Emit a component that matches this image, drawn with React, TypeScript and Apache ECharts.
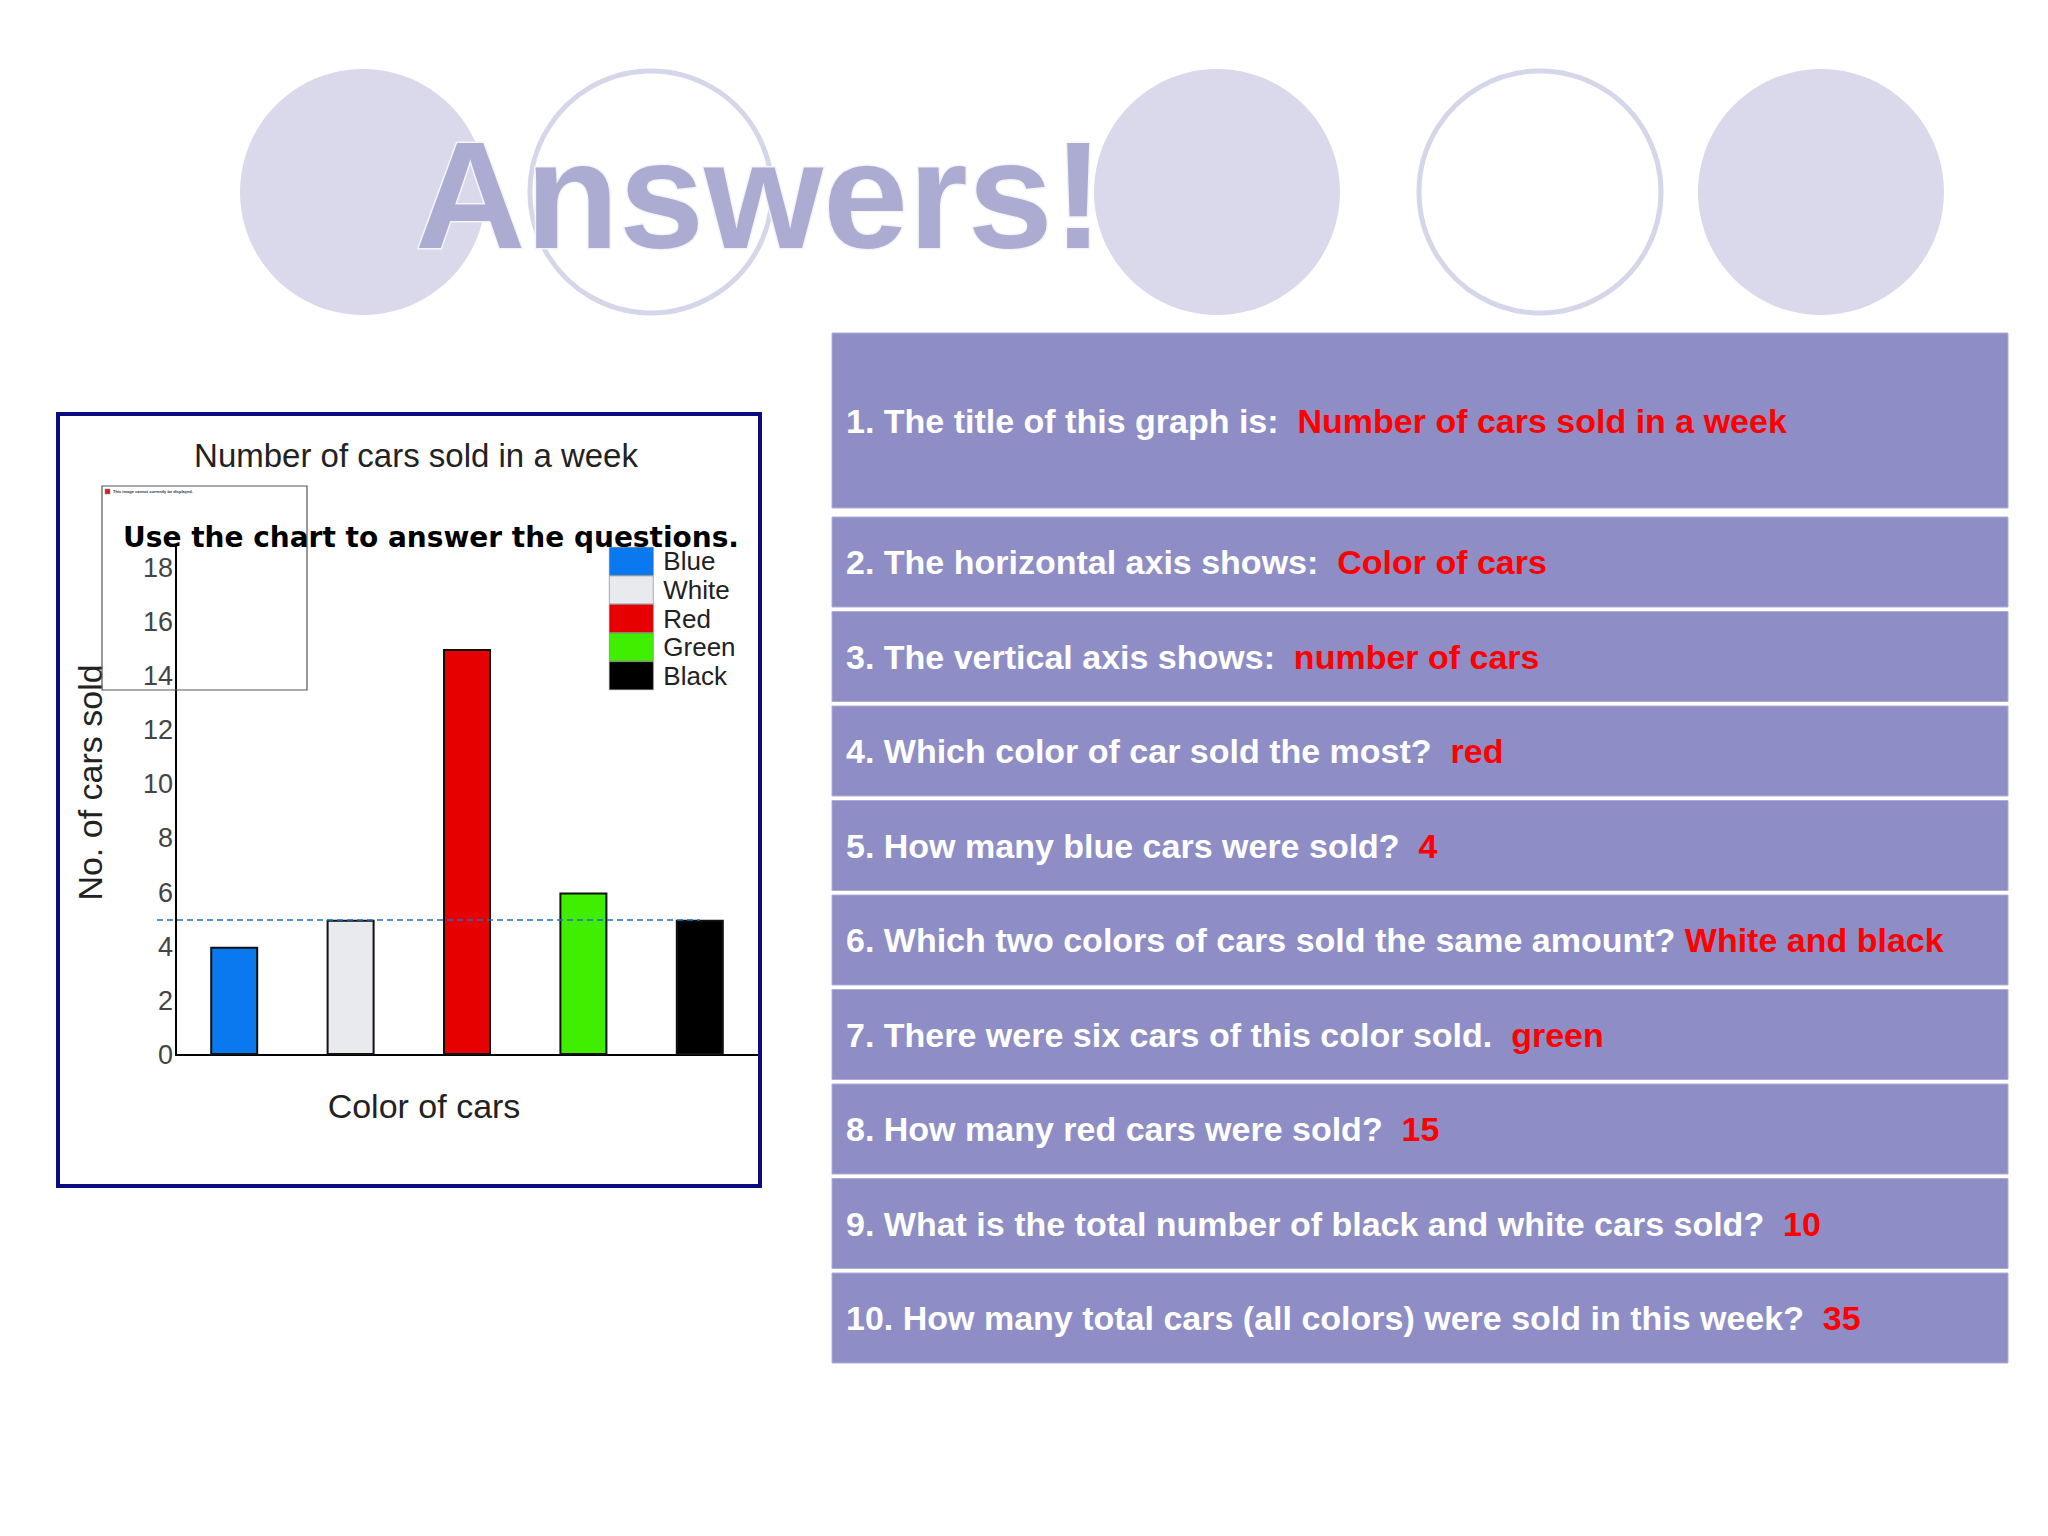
import React, { useEffect, useRef } from 'react';
import * as echarts from 'echarts';

// ---- chart data ----
const categories = ['Blue', 'White', 'Red', 'Green', 'Black'];
const carsSold = [4, 5, 15, 6, 5];
const barColors = ['#0a78ee', '#e8eaee', '#e60000', '#40ee00', '#000000'];
const yMin = 0;
const yMax = 18.8;
const yInterval = 2;
const referenceValue = 5;

const chartTitle = 'Number of cars sold in a week';
const xAxisName = 'Color of cars';
const yAxisName = 'No. of cars sold';
const overlayText = 'Use the chart to answer the questions.';
const slideTitle = 'Answers!';

// ---- question / answer table ----
const questions = [
  '1. The title of this graph is:  ',
  '2. The horizontal axis shows:  ',
  '3. The vertical axis shows:  ',
  '4. Which color of car sold the most?  ',
  '5. How many blue cars were sold?  ',
  '6. Which two colors of cars sold the same amount? ',
  '7. There were six cars of this color sold.  ',
  '8. How many red cars were sold?  ',
  '9. What is the total number of black and white cars sold?  ',
  '10. How many total cars (all colors) were sold in this week?  ',
];
const answers = [
  'Number of cars sold in a week',
  'Color of cars',
  'number of cars',
  'red',
  '4',
  'White and black',
  'green',
  '15',
  '10',
  '35',
];

const FONT = '"Liberation Sans", Arial, sans-serif';

function buildOption() {
  const elements: any[] = [];

  // decorative circles
  const circles = [
    { cx: 363, filled: true },
    { cx: 651, filled: false },
    { cx: 1217, filled: true },
    { cx: 1540, filled: false },
    { cx: 1821, filled: true },
  ];
  circles.forEach((c) => {
    elements.push({
      type: 'circle',
      z: 1,
      shape: { cx: c.cx, cy: 192, r: c.filled ? 123 : 121 },
      style: c.filled
        ? { fill: '#d9d9eb' }
        : { fill: 'rgba(0,0,0,0)', stroke: '#d6d6ea', lineWidth: 5 },
    });
  });

  // big title
  elements.push({
    type: 'text',
    z: 5,
    x: 415,
    y: 194,
    style: {
      text: slideTitle,
      font: `bold 153px ${FONT}`,
      fill: '#acacd2',
      stroke: '#f4f4fa',
      lineWidth: 3,
      shadowBlur: 10,
      shadowOffsetX: 2,
      shadowOffsetY: 9,
      shadowColor: 'rgba(40,40,60,0.55)',
      textAlign: 'left',
      align: 'left',
      textVerticalAlign: 'middle',
      verticalAlign: 'middle',
    },
  });

  // table rows
  questions.forEach((q, i) => {
    const top = i === 0 ? 333 : 517 + (i - 1) * 94.5;
    const h = i === 0 ? 175 : 90;
    elements.push({
      type: 'rect',
      z: 1,
      shape: { x: 832, y: top, width: 1176, height: h },
      style: { fill: '#8e8dc5', stroke: '#aeadd8', lineWidth: 1 },
    });
    elements.push({
      type: 'text',
      z: 2,
      x: 846,
      y: top + h / 2,
      style: {
        text: `{q|${q}}{a|${answers[i]}}`,
        rich: {
          q: { fontSize: 34, fontWeight: 'bold', fontFamily: FONT, fill: '#ffffff', color: '#ffffff' },
          a: { fontSize: 34, fontWeight: 'bold', fontFamily: FONT, fill: '#ff0000', color: '#ff0000' },
        },
        font: `bold 34px ${FONT}`,
        textAlign: 'left',
        align: 'left',
        textVerticalAlign: 'middle',
        verticalAlign: 'middle',
      },
    });
  });

  // chart frame
  elements.push({
    type: 'rect',
    z: 50,
    shape: { x: 58, y: 414, width: 702, height: 772 },
    style: { fill: 'rgba(0,0,0,0)', stroke: '#0c0c82', lineWidth: 4 },
  });

  // chart title
  elements.push({
    type: 'text',
    z: 10,
    x: 416,
    y: 455,
    style: {
      text: chartTitle,
      font: `33px ${FONT}`,
      fill: '#222222',
      textAlign: 'center',
      align: 'center',
      textVerticalAlign: 'middle',
      verticalAlign: 'middle',
    },
  });

  // broken image placeholder
  elements.push({
    type: 'rect',
    z: 60,
    shape: { x: 102, y: 486, width: 205, height: 204 },
    style: { fill: 'rgba(0,0,0,0)', stroke: '#555555', lineWidth: 1.2 },
  });
  elements.push({
    type: 'rect',
    z: 60,
    shape: { x: 105, y: 489, width: 5, height: 5 },
    style: { fill: '#d02020', stroke: '#888', lineWidth: 0.5 },
  });
  elements.push({
    type: 'text',
    z: 60,
    x: 113,
    y: 491.5,
    style: {
      text: 'This image cannot currently be displayed.',
      font: `bold 4px ${FONT}`,
      fill: '#333',
      textAlign: 'left',
      align: 'left',
      textVerticalAlign: 'middle',
      verticalAlign: 'middle',
    },
  });

  // overlay instruction text
  elements.push({
    type: 'text',
    z: 100,
    x: 123,
    y: 537,
    style: {
      text: overlayText,
      font: 'bold 28px "DejaVu Sans", Verdana, sans-serif',
      fill: '#000000',
      textAlign: 'left',
      align: 'left',
      textVerticalAlign: 'middle',
      verticalAlign: 'middle',
    },
  });

  const series = categories.map((name, i) => ({
    name,
    type: 'bar',
    barWidth: 48,
    barGap: '-100%',
    clip: false,
    itemStyle: { color: barColors[i], borderColor: '#111111', borderWidth: 2 },
    data: carsSold.map((v, j) => (j === i ? v : '-')),
    markLine:
      i === 0
        ? {
            silent: true,
            symbol: 'none',
            label: { show: false },
            lineStyle: { type: [6, 4], color: '#1f70c0', width: 1.6 },
            data: [[{ x: 157, yAxis: referenceValue }, { x: 700, yAxis: referenceValue }]],
          }
        : undefined,
  }));

  return {
    animation: false,
    backgroundColor: '#ffffff',
    grid: { left: 176, top: 546, width: 582, height: 509, containLabel: false },
    legend: {
      data: categories,
      orient: 'vertical',
      left: 609,
      top: 547,
      padding: 0,
      itemGap: 0,
      itemWidth: 44,
      itemHeight: 28,
      icon: 'rect',
      selectedMode: false,
      itemStyle: { borderWidth: 0.6, borderColor: '#777' },
      textStyle: { fontSize: 26, fontFamily: FONT, color: '#222', lineHeight: 28, padding: [0, 0, 0, 5] },
    },
    xAxis: {
      type: 'category',
      data: categories,
      name: xAxisName,
      nameLocation: 'middle',
      nameGap: 34,
      nameTextStyle: { fontSize: 34, fontFamily: FONT, color: '#222', padding: [0, 86, 0, 0] },
      axisLine: { lineStyle: { color: '#000', width: 2 } },
      axisTick: { show: false },
      axisLabel: { show: false },
    },
    yAxis: {
      type: 'value',
      min: yMin,
      max: yMax,
      interval: yInterval,
      name: yAxisName,
      nameLocation: 'middle',
      nameGap: 69,
      nameTextStyle: { fontSize: 34, fontFamily: FONT, color: '#222', padding: [0, 0, 0, 36] },
      axisLine: { show: true, lineStyle: { color: '#000', width: 2 } },
      axisTick: { show: false },
      splitLine: { show: false },
      axisLabel: {
        fontSize: 27,
        fontFamily: FONT,
        color: '#444',
        margin: 3,
        formatter: (v: number) => (v % yInterval === 0 ? String(v) : ''),
      },
    },
    series,
    graphic: { elements },
  };
}

export default function App() {
  const ref = useRef<HTMLDivElement>(null);
  useEffect(() => {
    document.body.style.margin = '0';
    const chart = echarts.init(ref.current as HTMLDivElement, null, { renderer: 'svg' });
    chart.setOption(buildOption() as any);
    return () => chart.dispose();
  }, []);
  return (
    <div
      ref={ref}
      style={{ position: 'absolute', left: 0, top: 0, width: 2048, height: 1536, background: '#fff' }}
    />
  );
}
